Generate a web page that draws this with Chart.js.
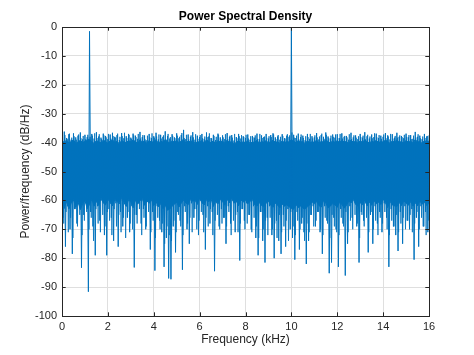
<!DOCTYPE html>
<html><head><meta charset="utf-8">
<script src="https://cdn.jsdelivr.net/npm/chart.js@4"></script>
<style>html,body{margin:0;padding:0;background:#fff}</style>
</head><body>
<canvas id="c" width="474" height="355"></canvas>
<script>
// Frequency spacing (kHz) of the samples in each array
const freqStepKHz = 0.1;
// Upper fringe / spike samples (dB/Hz) at 0, 0.1, ... 16 kHz
const psdPeakDb = [
  -37.5,-36.2,-38.4,-37.1,-39.0,-36.8,-38.2,-37.6,-36.5,-38.9,
  -37.3,-38.1,-1.5,-37.0,-38.6,-36.4,-37.9,-38.3,-36.9,-37.7,
  -38.8,-37.2,-36.6,-38.0,-37.4,-39.1,-36.7,-38.5,-37.8,-37.0,
  -38.3,-36.9,-37.6,-38.7,-36.3,-38.1,-37.5,-39.2,-37.0,-38.4,
  -37.8,-36.6,-38.9,-37.3,-38.0,-36.1,-37.7,-38.6,-37.1,-38.2,
  -36.8,-38.5,-37.4,-35.6,-38.8,-37.2,-38.0,-36.4,-39.0,-37.6,
  -38.1,-37.0,-38.7,-36.5,-37.9,-38.4,-37.3,-39.1,-36.9,-38.2,
  -37.5,-38.8,-36.7,-38.0,-37.4,-39.3,-38.1,-37.0,-38.6,-37.8,
  -38.4,-37.2,-39.0,-37.7,-38.3,-36.9,-38.8,-37.5,-38.1,-37.0,
  -38.6,-37.4,-36.8,-38.2,-37.9,-39.0,-37.1,-38.5,-37.6,-38.0,
  0.0,-37.3,-38.4,-36.9,-38.1,-37.6,-39.2,-37.0,-38.7,-37.8,
  -38.2,-36.7,-38.9,-37.4,-38.0,-36.5,-37.9,-38.6,-37.2,-38.3,
  -37.1,-38.5,-36.8,-38.0,-37.7,-39.0,-36.6,-38.2,-37.5,-38.8,
  -37.0,-38.3,-36.4,-37.8,-38.6,-37.2,-38.1,-36.9,-38.4,-37.6,
  -38.0,-36.7,-37.5,-38.9,-37.1,-38.3,-36.6,-38.0,-37.7,-38.5,
  -36.9,-38.2,-37.4,-38.7,-36.3,-38.0,-37.6,-38.8,-37.0,-37.9,
  -37.5
];
// Lower fringe / dip samples (dB/Hz) at 0.05, 0.15, ... 15.95 kHz
const psdTroughDb = [
  -66,-76,-62,-70,-78.5,-63,-68,-60,-83.3,-65,
  -61,-91.6,-64,-69,-79,-62,-67,-60,-72,-79,
  -63,-66,-74,-61,-76,-64,-69,-60,-66,-71,
  -62,-83.2,-65,-61,-68,-63,-70,-60,-77,-64,
  -84.3,-62,-67,-71,-83,-73,-87,-87.3,-69,-78,
  -64,-67,-84,-62,-70,-75,-61,-66,-63,-72,
  -60,-65,-77,-62,-68,-64,-84.5,-61,-69,-63,
  -66,-75,-62,-68,-60,-71,-64,-80.8,-63,-67,
  -61,-65,-70,-62,-73,-79,-64,-74,-81.5,-66,
  -62,-72,-80,-67,-74,-78.5,-65,-76,-63,-70,
  -73,-80.5,-64,-77,-68,-71,-82,-74,-65,-62,
  -69,-64,-71,-78.5,-62,-67,-85.2,-81.5,-66,-70,
  -83,-63,-68,-86,-75,-62,-66,-60,-69,-81.5,
  -64,-67,-61,-78,-65,-75,-62,-68,-64,-71,
  -61,-66,-83,-63,-69,-72,-77.5,-64,-75,-62,
  -67,-70,-63,-80.5,-66,-76,-62,-69,-64,-71
];
// Secondary peak samples (dB/Hz) at 0.025, 0.125, ... 15.925 kHz
const psdPeak2Db = [
  -38.1,-37.4,-38.7,-36.9,-38.3,-37.8,-39.0,-37.2,-38.5,-37.7,
  -38.9,-37.3,-38.0,-37.6,-36.8,-38.4,-37.1,-38.8,-37.5,-38.2,
  -37.0,-38.6,-37.7,-38.3,-36.9,-38.0,-37.8,-36.6,-38.4,-37.3,
  -38.7,-37.5,-38.1,-37.0,-38.6,-37.4,-38.9,-37.6,-38.2,-36.8,
  -38.3,-37.9,-37.2,-38.6,-37.5,-38.8,-37.0,-38.1,-37.7,-38.5,
  -37.6,-38.0,-36.7,-38.4,-37.3,-38.9,-37.5,-38.2,-37.1,-38.7,
  -37.4,-38.5,-37.9,-38.1,-36.8,-38.6,-37.7,-38.0,-37.3,-38.9,
  -38.2,-37.1,-38.8,-37.6,-38.3,-37.0,-38.5,-37.8,-37.4,-38.1,
  -37.3,-38.6,-37.8,-38.2,-37.5,-38.7,-37.0,-38.4,-37.9,-38.3,
  -37.8,-38.1,-37.2,-38.8,-37.4,-38.0,-37.7,-38.6,-37.1,-37.5,
  -36.5,-38.3,-37.6,-38.9,-37.2,-38.4,-37.8,-38.1,-37.0,-38.6,
  -37.5,-38.2,-37.9,-36.9,-38.7,-37.3,-38.5,-37.6,-38.0,-37.2,
  -38.4,-37.0,-38.6,-37.7,-38.2,-37.1,-38.8,-37.5,-38.3,-37.8,
  -38.1,-37.6,-38.9,-37.3,-37.9,-38.5,-36.8,-38.2,-37.4,-38.7,
  -37.2,-38.5,-37.9,-37.0,-38.6,-37.7,-38.3,-37.5,-38.1,-37.3,
  -38.0,-37.4,-38.8,-37.6,-38.2,-37.1,-38.5,-37.9,-38.4,-37.7
];
// Secondary dip samples (dB/Hz) at 0.075, 0.175, ... 15.975 kHz
const psdTrough2Db = [
  -68,-64,-71,-66,-73,-63,-69,-65,-72,-67,
  -64,-70,-66,-74,-63,-68,-71,-65,-69,-64,
  -67,-72,-63,-69,-65,-71,-66,-73,-64,-68,
  -70,-65,-68,-63,-72,-66,-69,-64,-71,-67,
  -73,-66,-70,-68,-75,-69,-72,-74,-67,-71,
  -65,-69,-72,-64,-68,-66,-71,-63,-70,-67,
  -64,-71,-66,-69,-63,-72,-67,-65,-70,-68,
  -66,-69,-64,-72,-67,-65,-71,-68,-63,-70,
  -68,-65,-71,-66,-69,-73,-64,-70,-67,-72,
  -66,-70,-68,-73,-65,-71,-69,-67,-74,-64,
  -69,-72,-67,-70,-66,-74,-68,-71,-65,-69,
  -67,-64,-70,-72,-66,-68,-73,-65,-69,-71,
  -72,-66,-69,-64,-71,-67,-70,-65,-68,-73,
  -65,-69,-66,-71,-64,-70,-67,-72,-66,-68,
  -64,-70,-72,-67,-69,-65,-71,-68,-66,-70,
  -67,-65,-71,-68,-64,-70,-66,-69,-72,-67
];
// Top edge of the dense noise body (dB/Hz) at 0, 0.1, ... 16 kHz
const bodyTopDb = [
  -39.4,-39.9,-39.1,-40.2,-39.6,-39.0,-40.4,-39.7,-39.2,-40.0,
  -39.5,-39.0,-38.8,-39.8,-40.3,-39.3,-39.7,-40.1,-39.1,-39.6,
  -40.2,-39.4,-39.0,-39.9,-39.5,-40.5,-39.2,-39.8,-40.0,-39.3,
  -39.7,-39.1,-39.6,-40.3,-39.0,-39.8,-39.4,-40.4,-39.2,-39.9,
  -39.6,-39.0,-40.2,-39.5,-39.8,-38.9,-39.7,-40.1,-39.3,-39.9,
  -39.2,-40.0,-39.5,-38.8,-40.3,-39.4,-39.8,-39.1,-40.4,-39.6,
  -39.9,-39.3,-40.1,-39.0,-39.7,-40.0,-39.4,-40.5,-39.2,-39.8,
  -39.5,-40.2,-39.1,-39.9,-39.6,-40.6,-39.9,-39.3,-40.1,-39.7,
  -40.0,-39.4,-40.3,-39.8,-39.9,-39.2,-40.2,-39.6,-39.9,-39.3,
  -40.1,-39.6,-39.2,-39.9,-39.7,-40.3,-39.4,-40.0,-39.6,-39.8,
  -39.0,-39.5,-40.0,-39.2,-39.8,-39.6,-40.4,-39.3,-40.1,-39.7,
  -39.9,-39.1,-40.2,-39.6,-39.8,-39.0,-39.7,-40.1,-39.4,-39.9,
  -39.3,-40.0,-39.2,-39.8,-39.6,-40.3,-39.1,-39.9,-39.5,-40.2,
  -39.4,-39.9,-39.0,-39.7,-40.1,-39.5,-39.8,-39.2,-40.0,-39.6,
  -39.8,-39.1,-39.6,-40.3,-39.4,-39.9,-39.0,-39.8,-39.7,-40.1,
  -39.2,-39.9,-39.5,-40.2,-38.9,-39.8,-39.6,-40.3,-39.3,-39.7,
  -39.5
];
// Bottom edge of the dense noise body (dB/Hz) at 0, 0.1, ... 16 kHz
const bodyFloorDb = [
  -61.5,-62.8,-60.2,-63.0,-61.0,-59.8,-62.4,-60.6,-63.2,-61.2,
  -60.0,-62.9,-61.4,-59.5,-62.0,-60.3,-61.8,-59.2,-60.9,-61.6,
  -59.4,-60.8,-61.9,-59.6,-60.4,-61.2,-59.0,-60.7,-62.1,-59.8,
  -60.5,-62.6,-59.9,-61.3,-60.1,-59.3,-61.7,-60.2,-61.0,-59.7,
  -61.8,-60.4,-62.2,-61.1,-62.9,-61.6,-63.4,-63.0,-62.0,-61.3,
  -60.6,-62.3,-61.0,-59.8,-60.9,-61.5,-59.6,-60.3,-59.9,-61.4,
  -59.2,-60.8,-61.6,-59.7,-60.5,-59.4,-62.1,-60.0,-61.2,-59.6,
  -60.4,-61.7,-59.5,-60.9,-59.1,-61.0,-60.2,-61.9,-59.8,-60.6,
  -59.9,-61.2,-60.3,-59.6,-61.5,-62.0,-60.7,-61.8,-62.3,-61.0,
  -60.2,-61.6,-62.4,-60.9,-61.7,-62.6,-61.3,-62.0,-61.5,-62.2,
  -62.8,-63.1,-61.4,-62.5,-61.9,-62.7,-63.0,-62.2,-61.6,-60.5,
  -61.2,-60.4,-61.8,-62.3,-60.1,-60.9,-62.6,-62.0,-61.1,-61.5,
  -62.4,-60.6,-61.3,-62.7,-61.8,-60.2,-60.9,-59.6,-61.4,-62.0,
  -60.8,-61.5,-59.7,-61.9,-60.5,-61.7,-60.0,-61.2,-60.6,-61.4,
  -59.5,-60.8,-62.5,-60.3,-61.6,-61.9,-62.1,-60.7,-61.8,-60.1,
  -61.0,-61.7,-60.4,-62.0,-60.8,-61.9,-60.2,-61.3,-60.6,-61.8,
  -61.0
];
const xTicksKHz = [0,2,4,6,8,10,12,14,16];
const yTicksDb = [0,-10,-20,-30,-40,-50,-60,-70,-80,-90,-100];

const spikePoints = [];
for (let i = 0; i < psdPeakDb.length; i++) {
  spikePoints.push({x: i * freqStepKHz, y: psdPeakDb[i]});
  if (i < psdTroughDb.length) spikePoints.push({x: (i + 0.5) * freqStepKHz, y: psdTroughDb[i]});
}
const spike2Points = [];
for (let i = 0; i < psdPeak2Db.length; i++) {
  spike2Points.push({x: (i + 0.25) * freqStepKHz, y: psdPeak2Db[i]});
  spike2Points.push({x: (i + 0.75) * freqStepKHz, y: psdTrough2Db[i]});
}
const topPoints = bodyTopDb.map((v, i) => ({x: i * freqStepKHz, y: v}));
const floorPoints = bodyFloorDb.map((v, i) => ({x: i * freqStepKHz, y: v}));

const FONT = "'Liberation Sans', Arial, Helvetica, sans-serif";
const TXT = '#262626';
const BLUE = '#0072BD';

const frame = {
  id: 'frame',
  afterDatasetsDraw(chart) {
    const {ctx, chartArea: a, scales: {x, y}} = chart;
    ctx.save();
    ctx.strokeStyle = TXT; ctx.lineWidth = 1;
    const L = 3.7;
    ctx.beginPath();
    xTicksKHz.forEach(v => {
      const px = Math.round(x.getPixelForValue(v)) + 0.5;
      ctx.moveTo(px, a.bottom); ctx.lineTo(px, a.bottom - L);
      ctx.moveTo(px, a.top); ctx.lineTo(px, a.top + L);
    });
    yTicksDb.forEach(v => {
      const py = Math.round(y.getPixelForValue(v)) + 0.5;
      ctx.moveTo(a.left, py); ctx.lineTo(a.left + L, py);
      ctx.moveTo(a.right, py); ctx.lineTo(a.right - L, py);
    });
    ctx.stroke();
    ctx.strokeRect(Math.round(a.left) + 0.5, Math.round(a.top) + 0.5,
                   Math.round(a.right - a.left), Math.round(a.bottom - a.top));
    ctx.restore();
  }
};

const lineDs = (data, extra) => Object.assign({
  data, borderColor: BLUE, borderWidth: 1, pointRadius: 0, tension: 0, fill: false
}, extra || {});

new Chart(document.getElementById('c'), {
  type: 'line',
  data: { datasets: [
    lineDs(spikePoints),
    lineDs(spike2Points, { borderWidth: 0.8 }),
    lineDs(topPoints),
    lineDs(floorPoints, { fill: '-1', backgroundColor: BLUE })
  ]},
  options: {
    responsive: false,
    animation: false,
    events: [],
    layout: { padding: { left: 17, right: 0, top: 0, bottom: 0 } },
    plugins: {
      legend: { display: false },
      tooltip: { enabled: false },
      filler: { propagate: false },
      title: {
        display: true,
        text: 'Power Spectral Density',
        color: '#000',
        font: { family: FONT, size: 12, weight: 'bold' },
        padding: { top: 9, bottom: 3.6 }
      }
    },
    scales: {
      x: {
        type: 'linear', min: 0, max: 16,
        afterFit: s => { s.height = 39; },
        afterBuildTicks: s => { s.ticks = xTicksKHz.map(v => ({value: v})); },
        ticks: { color: TXT, font: { family: FONT, size: 11 }, padding: 4, maxRotation: 0 },
        grid: { color: '#dfdfdf', drawTicks: false },
        border: { display: false },
        title: { display: true, text: 'Frequency (kHz)', color: TXT,
                 font: { family: FONT, size: 12 }, padding: { top: 0, bottom: 8 } }
      },
      y: {
        type: 'linear', min: -100, max: 0,
        afterFit: s => { s.width = 45; },
        afterBuildTicks: s => { s.ticks = yTicksDb.slice().reverse().map(v => ({value: v})); },
        ticks: { color: TXT, font: { family: FONT, size: 11 }, padding: 5 },
        grid: { color: '#dfdfdf', drawTicks: false },
        border: { display: false },
        title: { display: true, text: 'Power/frequency (dB/Hz)', color: TXT,
                 font: { family: FONT, size: 12 }, padding: { top: 1.5, bottom: 0 } }
      },
      yRight: {
        type: 'linear', position: 'right', min: -100, max: 0,
        afterFit: s => { s.width = 45; },
        ticks: { display: false },
        grid: { display: false },
        border: { display: false }
      }
    }
  },
  plugins: [frame]
});
</script>
</body></html>
